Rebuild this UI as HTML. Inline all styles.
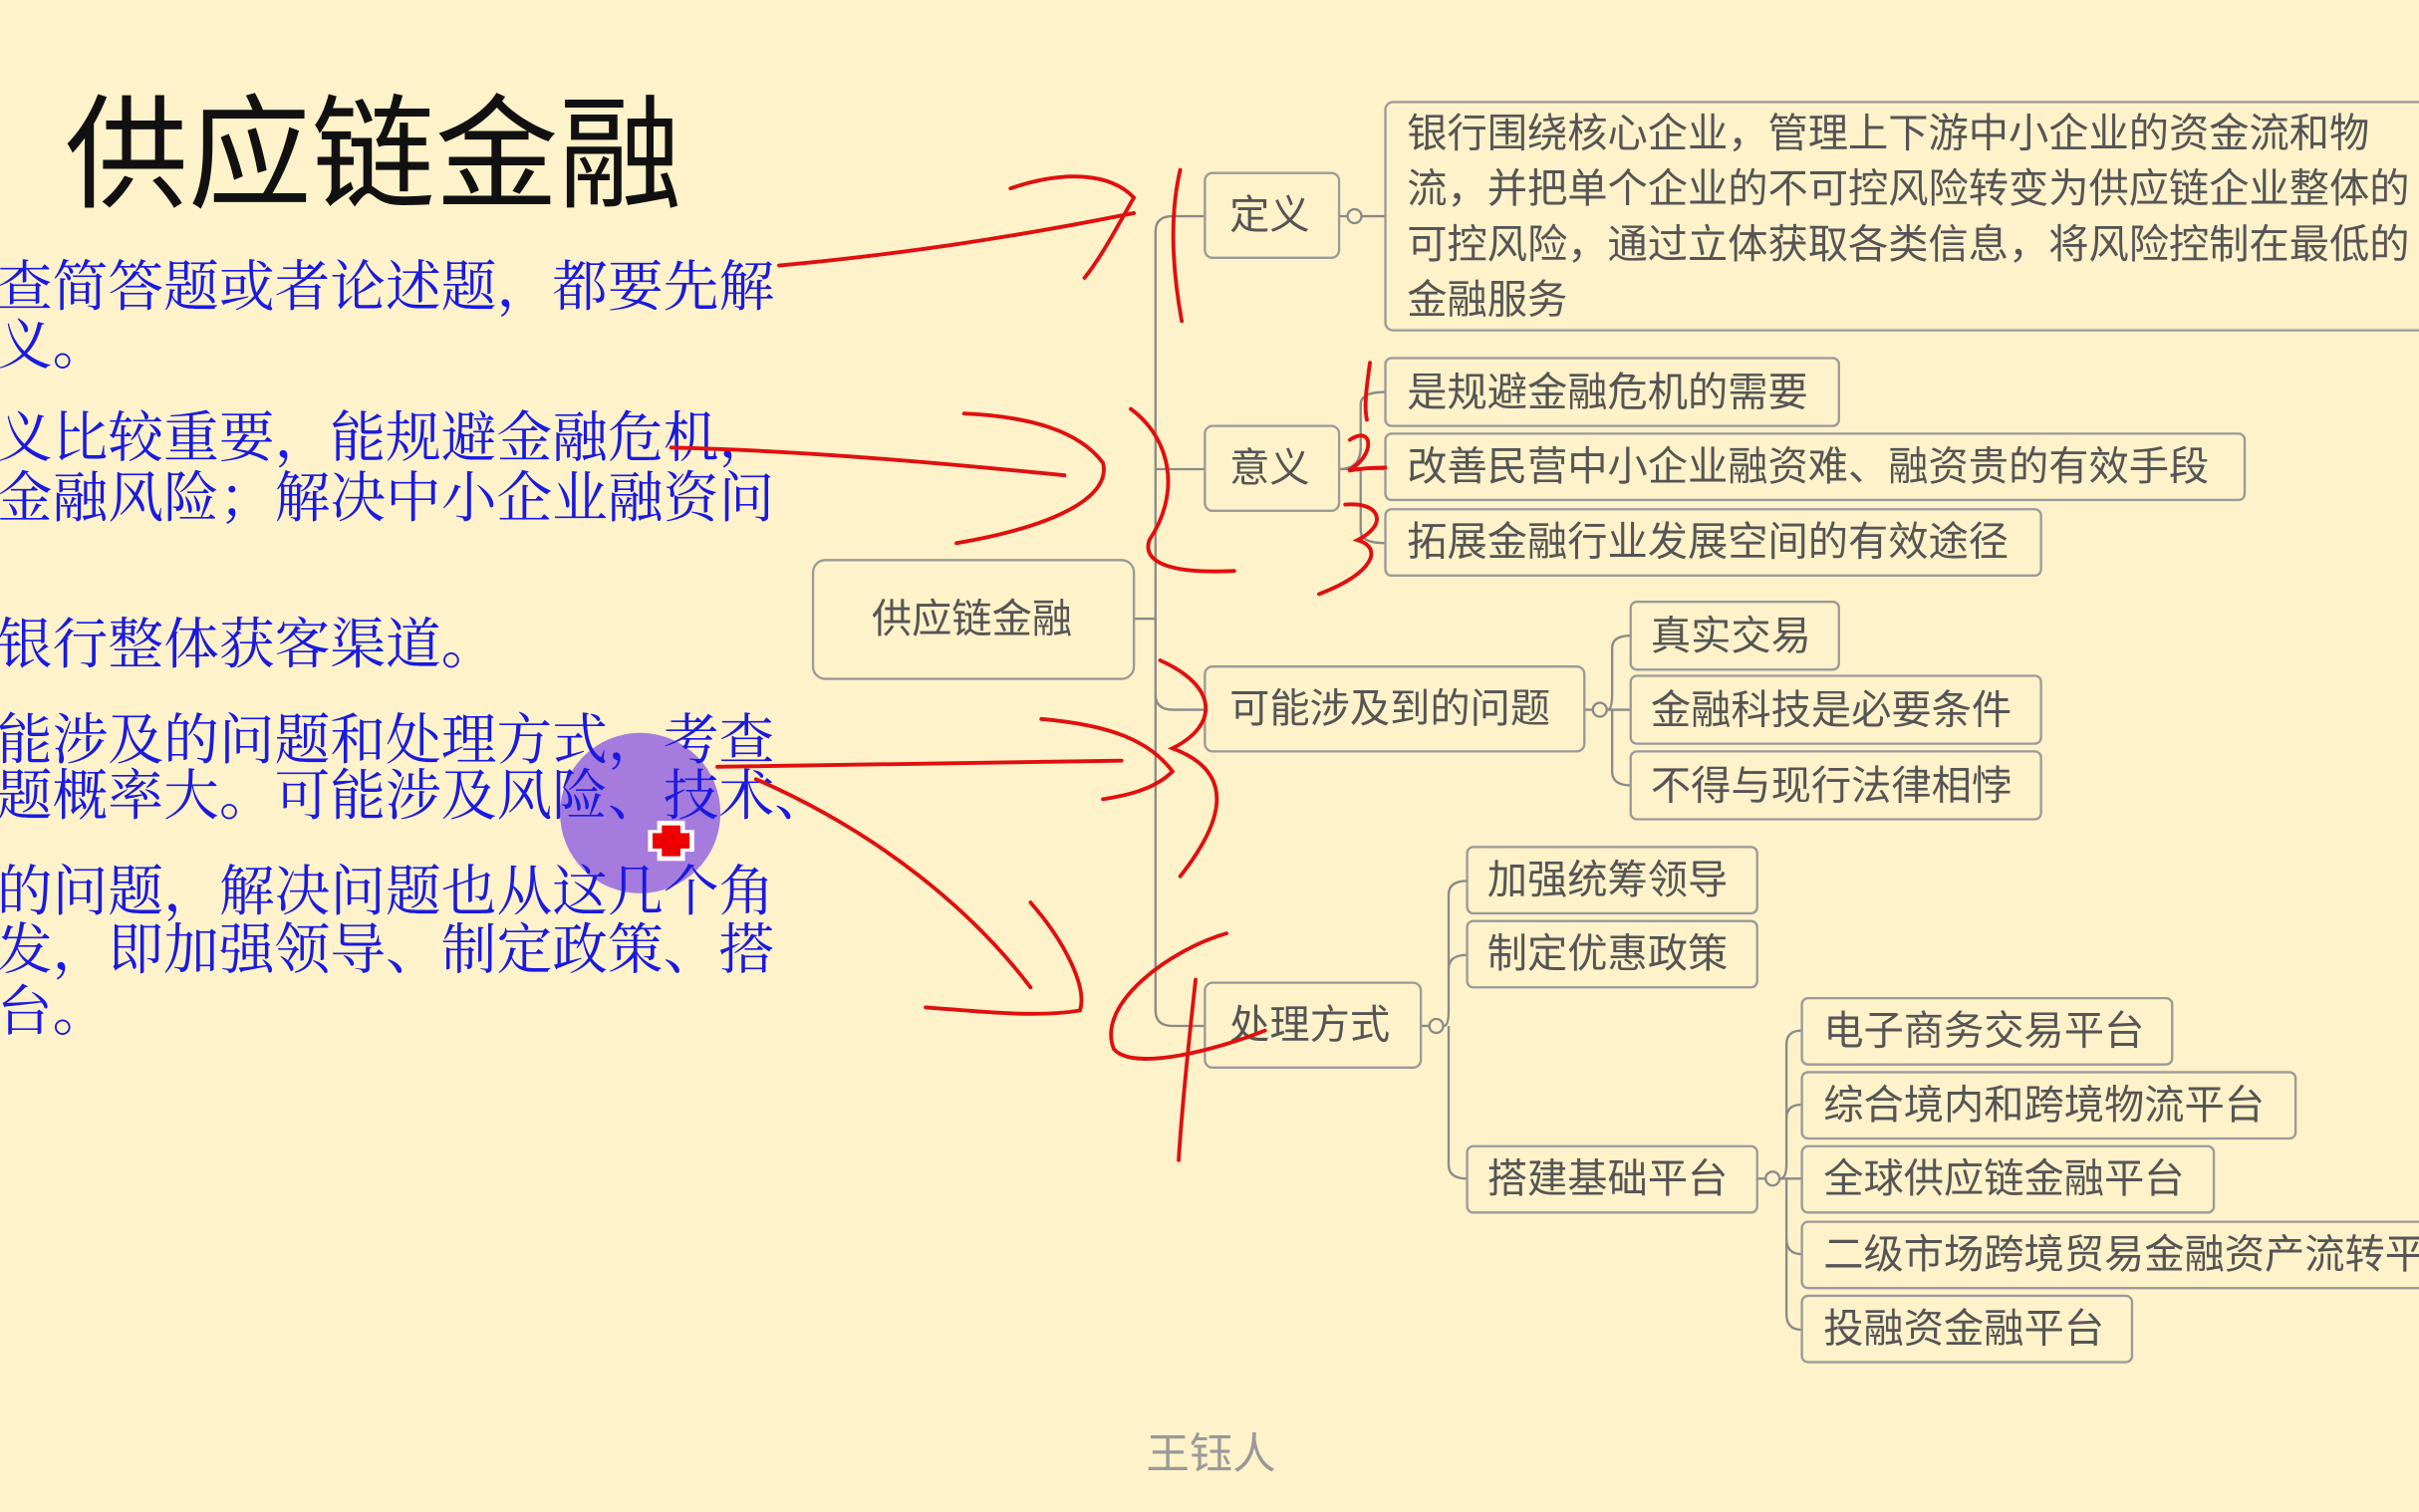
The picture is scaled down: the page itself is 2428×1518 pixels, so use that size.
<!DOCTYPE html>
<html><head><meta charset="utf-8"><style>
html,body{margin:0;padding:0;background:#fdf2c9;}
svg{display:block}
.bt{font-family:"Liberation Serif","Noto Serif CJK SC",serif;font-size:36px;fill:#1a1ae0}
.mt{font-family:"Liberation Sans","Noto Sans CJK SC",sans-serif;font-size:26px;fill:#555}
.bx{fill:#fdf2c9;stroke:#9a9a9a;stroke-width:1.5}
.ln{fill:none;stroke:#8a8a8a;stroke-width:1.5}
.rd{fill:none;stroke:#e01010;stroke-width:2.5;stroke-linecap:round}
</style></head><body>
<svg width="2428" height="1518" viewBox="0 0 1568 980" xmlns="http://www.w3.org/2000/svg">
<rect width="1568" height="980" fill="#fdf2c9"/>
<text x="42" y="128" font-family="Liberation Sans,'Noto Sans CJK SC',sans-serif" font-size="80" fill="#111">供应链金融</text>
<circle cx="415" cy="527" r="52" fill="#9b6fe0" opacity="0.9"/>
<g class="bt">
<text x="-2" y="198">查简答题或者论述题，都要先解</text>
<text x="-2" y="236">义。</text>
<text x="-2" y="296">义比较重要，能规避金融危机，</text>
<text x="-2" y="335">金融风险；解决中小企业融资问</text>
<text x="-2" y="430">银行整体获客渠道。</text>
<text x="-2" y="492">能涉及的问题和处理方式，考查</text>
<text x="-2" y="528">题概率大。可能涉及风险、技术、</text>
<text x="-2" y="590">的问题，解决问题也从这几个角</text>
<text x="-2" y="628">发，即加强领导、制定政策、搭</text>
<text x="-2" y="668">台。</text>
</g>
<rect x="426" y="532" width="18" height="26" fill="#fff"/><rect x="420" y="538" width="30" height="14" fill="#fff"/>
<rect x="429" y="535" width="12" height="20" fill="#e00"/><rect x="423" y="540" width="24" height="10" fill="#e00"/>
<g class="ln">
<path d="M735 401 H749"/>
<path d="M749 150 V655"/>
<path d="M749 150 Q749 140 760 140 H781"/>
<path d="M749 304 H781"/>
<path d="M749 450 Q749 460 760 460 H781"/>
<path d="M749 655 Q749 665 760 665 H781"/>
<path d="M868 140 H874"/><path d="M883 140 H898"/>
<path d="M868 304 Q882 304 882 290 V262 Q882 254 898 254"/>
<path d="M868 304 H898"/>
<path d="M882 304 V344 Q882 352 898 352"/>
<path d="M1027 460 H1033"/><path d="M1042 460 Q1045 460 1045 450 V420 Q1045 412 1057 412"/>
<path d="M1042 460 H1057"/><path d="M1045 460 V500 Q1045 509 1057 509"/>
<path d="M921 665 H927"/><path d="M936 665 Q939 665 939 655 V580 Q939 571 951 571"/>
<path d="M939 628 Q939 619 951 619"/><path d="M939 665 V755 Q939 764 951 764"/>
<path d="M1139 764 H1145"/><path d="M1154 764 Q1158 764 1158 754 V677 Q1158 668 1168 668"/>
<path d="M1158 725 Q1158 716 1168 716"/><path d="M1154 764 H1168"/>
<path d="M1158 764 V852 Q1158 862 1168 862"/><path d="M1158 803 Q1158 813 1168 813"/>
</g>
<g fill="#fdf2c9" stroke="#8a8a8a" stroke-width="1.5">
<circle cx="878" cy="140" r="4.5"/><circle cx="1037" cy="460" r="4.5"/><circle cx="931" cy="665" r="4.5"/><circle cx="1149" cy="764" r="4.5"/>
</g>
<g>
<rect class="bx" x="527" y="363" width="208" height="77" rx="8"/>
<rect class="bx" x="781" y="112" width="87" height="55" rx="5"/>
<rect class="bx" x="781" y="276" width="87" height="55" rx="5"/>
<rect class="bx" x="781" y="432" width="246" height="55" rx="5"/>
<rect class="bx" x="781" y="637" width="140" height="55" rx="5"/>
<rect class="bx" x="898" y="66" width="680" height="148" rx="5"/>
<rect class="bx" x="898" y="232" width="294" height="44" rx="4"/>
<rect class="bx" x="898" y="281" width="557" height="43" rx="4"/>
<rect class="bx" x="898" y="330" width="425" height="43" rx="4"/>
<rect class="bx" x="1057" y="390" width="135" height="44" rx="4"/>
<rect class="bx" x="1057" y="438" width="266" height="44" rx="4"/>
<rect class="bx" x="1057" y="487" width="266" height="44" rx="4"/>
<rect class="bx" x="951" y="549" width="188" height="43" rx="4"/>
<rect class="bx" x="951" y="597" width="188" height="43" rx="4"/>
<rect class="bx" x="951" y="743" width="188" height="43" rx="4"/>
<rect class="bx" x="1168" y="647" width="240" height="43" rx="4"/>
<rect class="bx" x="1168" y="695" width="320" height="43" rx="4"/>
<rect class="bx" x="1168" y="743" width="267" height="43" rx="4"/>
<rect class="bx" x="1168" y="792" width="420" height="43" rx="4"/>
<rect class="bx" x="1168" y="840" width="214" height="43" rx="4"/>
</g>
<g class="mt">
<text x="565" y="410">供应链金融</text>
<text x="797" y="148">定义</text>
<text x="797" y="312">意义</text>
<text x="797" y="468">可能涉及到的问题</text>
<text x="797" y="673">处理方式</text>
<text x="912" y="95">银行围绕核心企业，管理上下游中小企业的资金流和物</text>
<text x="912" y="131">流，并把单个企业的不可控风险转变为供应链企业整体的</text>
<text x="912" y="167">可控风险，通过立体获取各类信息，将风险控制在最低的</text>
<text x="912" y="203">金融服务</text>
<text x="912" y="263">是规避金融危机的需要</text>
<text x="912" y="311">改善民营中小企业融资难、融资贵的有效手段</text>
<text x="912" y="360">拓展金融行业发展空间的有效途径</text>
<text x="1070" y="421">真实交易</text>
<text x="1070" y="469">金融科技是必要条件</text>
<text x="1070" y="518">不得与现行法律相悖</text>
<text x="964" y="579">加强统筹领导</text>
<text x="964" y="627">制定优惠政策</text>
<text x="964" y="773">搭建基础平台</text>
<text x="1182" y="677">电子商务交易平台</text>
<text x="1182" y="725">综合境内和跨境物流平台</text>
<text x="1182" y="773">全球供应链金融平台</text>
<text x="1182" y="822">二级市场跨境贸易金融资产流转平</text>
<text x="1182" y="870">投融资金融平台</text>
</g>
<text x="785" y="952" text-anchor="middle" font-family="Liberation Sans,'Noto Sans CJK SC',sans-serif" font-size="28" fill="#999">王钰人</text>
<g class="rd">
<path d="M505 172 C580 165 650 155 735 138"/>
<path d="M655 122 C690 110 720 112 735 128 C725 145 715 165 703 180"/>
<path d="M765 110 C758 140 760 175 766 208"/>
<path d="M435 290 C520 292 610 300 690 308"/>
<path d="M625 268 C670 270 700 280 715 300 C720 320 690 340 620 352"/>
<path d="M733 265 C760 285 765 320 745 350 C740 365 760 372 800 370"/>
<path d="M888 235 C886 250 884 262 886 272"/>
<path d="M875 285 C890 275 892 295 874 305 C885 303 893 303 898 303"/>
<path d="M872 327 C895 325 900 340 880 350 C897 355 890 372 855 385"/>
<path d="M465 497 C560 495 650 495 727 493"/>
<path d="M675 466 C720 470 745 480 760 500 C750 510 735 515 715 518"/>
<path d="M752 428 C790 445 790 470 760 485 C800 500 795 530 765 568"/>
<path d="M490 505 C570 540 630 590 668 640"/>
<path d="M668 585 C690 610 705 640 700 655 C670 660 630 655 600 653"/>
<path d="M795 605 C760 615 710 650 722 680 C735 695 790 680 820 668"/>
<path d="M775 635 C770 680 766 720 764 752"/>
</g>
</svg>
</body></html>
